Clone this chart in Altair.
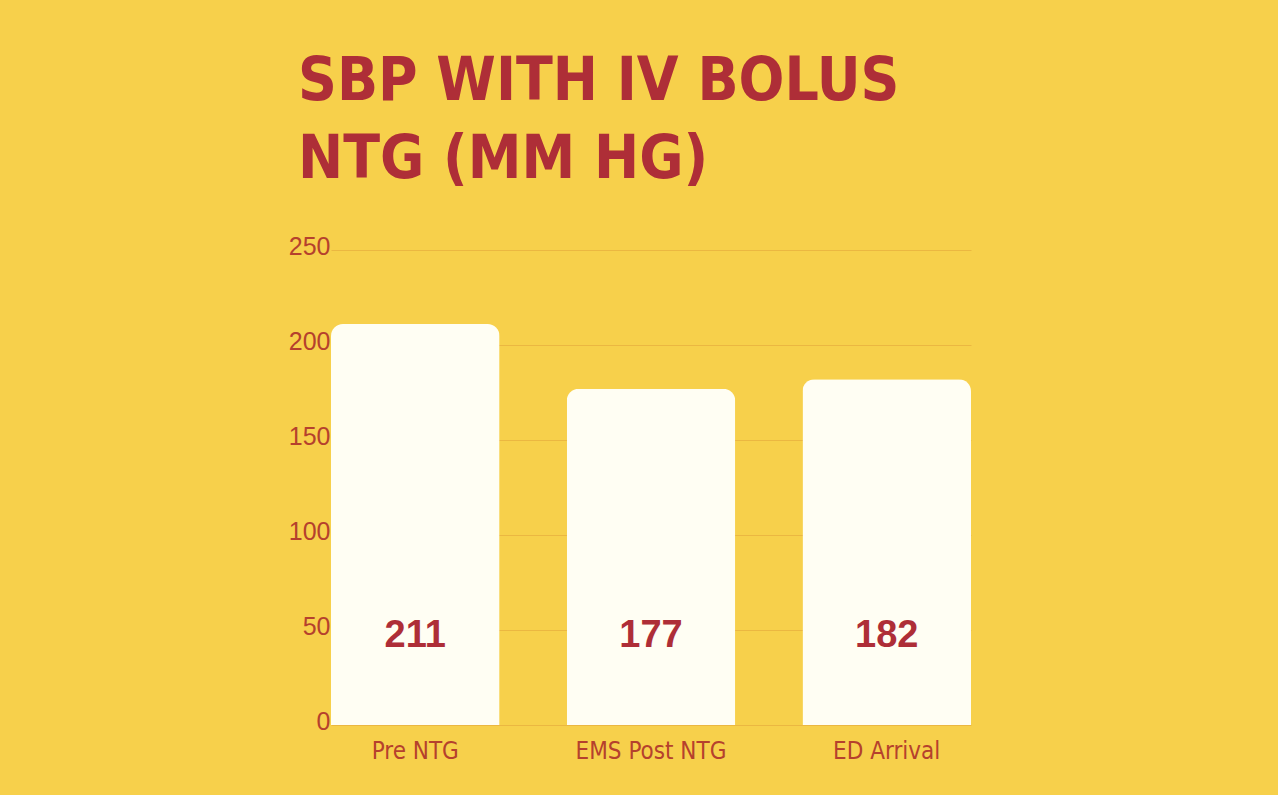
import altair as alt
import pandas as pd

categories = ["Pre NTG", "EMS Post NTG", "ED Arrival"]
values = [211, 177, 182]
y_ticks = [0, 50, 100, 150, 200, 250]
title_lines = ["SBP WITH IV BOLUS", "NTG (MM HG)"]

df = pd.DataFrame({"stage": categories, "sbp": values})

BG = "#F7D04B"
RED = "#AE2E37"
LABEL = "#B5412D"
GRID = "#EBB741"
BAR = "#FFFEF3"
COND = "DejaVu Sans Condensed, sans-serif"

x = alt.X(
    "stage:N",
    sort=categories,
    title=None,
    scale=alt.Scale(paddingInner=0.285, paddingOuter=0),
    axis=alt.Axis(
        labelAngle=0,
        labelFont=COND,
        labelFontSize=24,
        labelColor=LABEL,
        labelPadding=14,
        ticks=False,
        domain=False,
        grid=False,
    ),
)

bars = alt.Chart(df).mark_bar(
    color=BAR, cornerRadiusTopLeft=12, cornerRadiusTopRight=12
).encode(
    x=x,
    y=alt.Y(
        "sbp:Q",
        title=None,
        scale=alt.Scale(domain=[0, 250]),
        axis=alt.Axis(
            values=y_ticks,
            labelFont="Liberation Sans, sans-serif",
            labelFontSize=25,
            labelColor=LABEL,
            labelPadding=1,
            labelBaseline="middle",
            labelOffset=-4,
            ticks=False,
            domain=False,
            grid=True,
            gridColor=GRID,
            gridWidth=1.2,
        ),
    ),
)

labels = alt.Chart(df).mark_text(
    font="Liberation Sans, sans-serif",
    fontWeight="bold",
    fontSize=38,
    color=RED,
    baseline="middle",
    dy=-89,
).encode(
    x=alt.X("stage:N", sort=categories),
    y=alt.Y(datum=0),
    text="sbp:Q",
)

chart = (
    alt.layer(bars, labels)
    .properties(
        width=640,
        height=494,
        background=BG,
        autosize=alt.AutoSizeParams(type="none"),
        padding={"left": 331, "top": 231, "right": 307, "bottom": 70},
        title=alt.TitleParams(
            text=title_lines,
            anchor="start",
            frame="group",
            dx=-33,
            offset=40,
            font=COND,
            fontWeight="bold",
            fontSize=60,
            lineHeight=78,
            color=RED,
        ),
    )
    .configure_view(stroke=None)
)

chart.save("out.html", embed_options={"renderer": "svg", "actions": False})
